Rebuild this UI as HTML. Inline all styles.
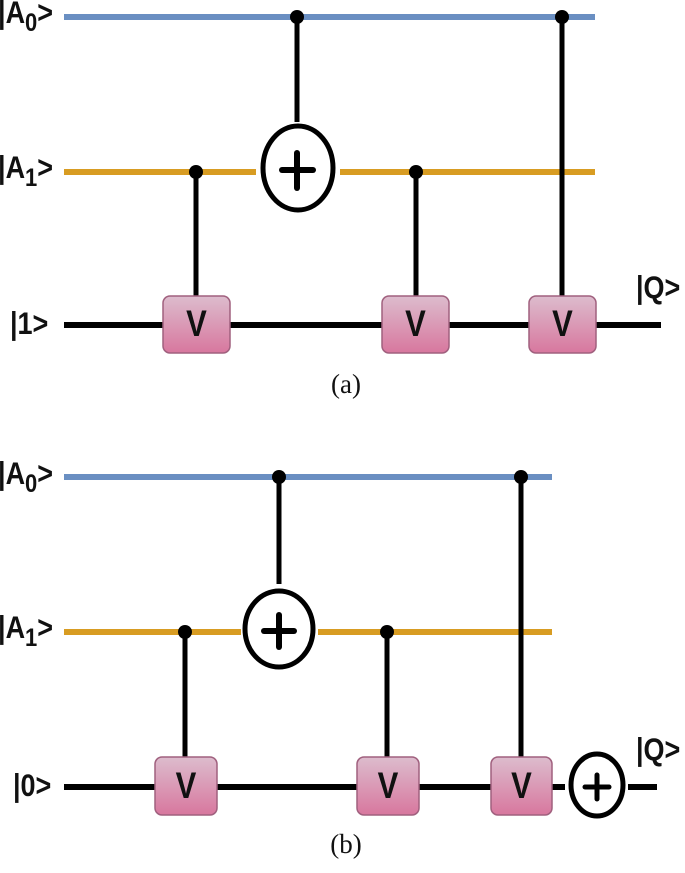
<!DOCTYPE html>
<html><head><meta charset="utf-8"><style>
html,body{margin:0;padding:0;background:#fff;}
svg{display:block;}
.lbl{font-family:"Liberation Sans",sans-serif;font-size:27px;fill:#111;font-weight:bold;}
.sub{font-family:"Liberation Sans",sans-serif;font-size:22px;fill:#111;}
.cap{font-family:"Liberation Serif",serif;font-size:27px;fill:#111;}
.v{font-family:"Liberation Sans",sans-serif;font-size:31px;fill:#111;font-weight:bold;}
</style></head><body>
<svg width="685" height="873" viewBox="0 0 685 873" xmlns="http://www.w3.org/2000/svg">
<defs>
<linearGradient id="g" x1="0" y1="0" x2="0" y2="1">
<stop offset="0" stop-color="#dcbccd"/><stop offset="1" stop-color="#d8779e"/>
</linearGradient>
</defs>
<!-- (a) -->
<line x1="64" y1="17" x2="595" y2="17" stroke="#6a8fc2" stroke-width="6"/>
<line x1="64" y1="172" x2="256" y2="172" stroke="#d89c22" stroke-width="6"/>
<line x1="340" y1="172" x2="595" y2="172" stroke="#d89c22" stroke-width="6"/>
<line x1="64" y1="325" x2="661" y2="325" stroke="#000" stroke-width="6"/>
<g stroke="#000" stroke-width="5">
<line x1="297" y1="17" x2="297" y2="122"/>
<line x1="196" y1="172" x2="196" y2="298"/>
<line x1="416" y1="172" x2="416" y2="298"/>
<line x1="562" y1="17" x2="562" y2="298"/>
</g>
<g fill="#000"><circle cx="297" cy="17" r="7"/><circle cx="196" cy="172" r="7"/><circle cx="416" cy="172" r="7"/><circle cx="562" cy="17" r="7"/></g>
<ellipse cx="298" cy="168" rx="35" ry="42" fill="#fff" stroke="#000" stroke-width="5"/>
<g stroke="#000" stroke-width="6" stroke-linecap="round"><line x1="282" y1="170" x2="313" y2="170"/><line x1="297" y1="153" x2="297" y2="188"/></g>
<g stroke="#a0607e" stroke-width="1.5" fill="url(#g)">
<rect x="163" y="296" width="67" height="57" rx="7"/>
<rect x="382" y="296" width="67" height="57" rx="7"/>
<rect x="529" y="296" width="67" height="57" rx="7"/>
</g>
<g transform="translate(0,336) scale(1,1.2)">
<text class="v" x="196.5" y="0" text-anchor="middle">V</text>
<text class="v" x="415.5" y="0" text-anchor="middle">V</text>
<text class="v" x="562.5" y="0" text-anchor="middle">V</text>
</g>
<g transform="translate(0,23) scale(1,1.15)"><text class="lbl" x="-2" y="0">|A<tspan class="sub" dy="7">0</tspan><tspan dy="-7">&gt;</tspan></text></g>
<g transform="translate(0,178) scale(1,1.15)"><text class="lbl" x="-2" y="0">|A<tspan class="sub" dy="7">1</tspan><tspan dy="-7">&gt;</tspan></text></g>
<g transform="translate(0,334) scale(1,1.15)"><text class="lbl" x="10" y="0">|1&gt;</text></g>
<g transform="translate(0,298) scale(1,1.15)"><text class="lbl" x="636" y="0">|Q&gt;</text></g>
<text class="cap" x="346" y="393" text-anchor="middle">(a)</text>
<!-- (b) -->
<line x1="64" y1="477" x2="552" y2="477" stroke="#6a8fc2" stroke-width="6"/>
<line x1="64" y1="632" x2="241" y2="632" stroke="#d89c22" stroke-width="6"/>
<line x1="318" y1="632" x2="552" y2="632" stroke="#d89c22" stroke-width="6"/>
<line x1="64" y1="787" x2="565" y2="787" stroke="#000" stroke-width="6"/>
<line x1="628" y1="787" x2="657" y2="787" stroke="#000" stroke-width="6"/>
<g stroke="#000" stroke-width="5">
<line x1="279" y1="477" x2="279" y2="584"/>
<line x1="185" y1="632" x2="185" y2="759"/>
<line x1="387" y1="632" x2="387" y2="759"/>
<line x1="521" y1="477" x2="521" y2="759"/>
</g>
<g fill="#000"><circle cx="279" cy="477" r="7"/><circle cx="185" cy="632" r="7"/><circle cx="387" cy="632" r="7"/><circle cx="521" cy="477" r="7"/></g>
<ellipse cx="279" cy="629" rx="34" ry="38" fill="#fff" stroke="#000" stroke-width="5"/>
<g stroke="#000" stroke-width="6" stroke-linecap="round"><line x1="264" y1="631" x2="294" y2="631"/><line x1="279" y1="615" x2="279" y2="647"/></g>
<ellipse cx="597" cy="785" rx="26" ry="31" fill="#fff" stroke="#000" stroke-width="5"/>
<g stroke="#000" stroke-width="5" stroke-linecap="round"><line x1="585" y1="787" x2="609" y2="787"/><line x1="597" y1="775" x2="597" y2="799"/></g>
<g stroke="#a0607e" stroke-width="1.5" fill="url(#g)">
<rect x="155" y="757" width="62" height="58" rx="7"/>
<rect x="357" y="757" width="62" height="58" rx="7"/>
<rect x="491" y="757" width="61" height="58" rx="7"/>
</g>
<g transform="translate(0,798) scale(1,1.2)">
<text class="v" x="186" y="0" text-anchor="middle">V</text>
<text class="v" x="388" y="0" text-anchor="middle">V</text>
<text class="v" x="521.5" y="0" text-anchor="middle">V</text>
</g>
<g transform="translate(0,484) scale(1,1.15)"><text class="lbl" x="-2" y="0">|A<tspan class="sub" dy="7">0</tspan><tspan dy="-7">&gt;</tspan></text></g>
<g transform="translate(0,638) scale(1,1.15)"><text class="lbl" x="-2" y="0">|A<tspan class="sub" dy="7">1</tspan><tspan dy="-7">&gt;</tspan></text></g>
<g transform="translate(0,796) scale(1,1.15)"><text class="lbl" x="13" y="0">|0&gt;</text></g>
<g transform="translate(0,760) scale(1,1.15)"><text class="lbl" x="636" y="0">|Q&gt;</text></g>
<text class="cap" x="346" y="853" text-anchor="middle">(b)</text>
</svg>
</body></html>
